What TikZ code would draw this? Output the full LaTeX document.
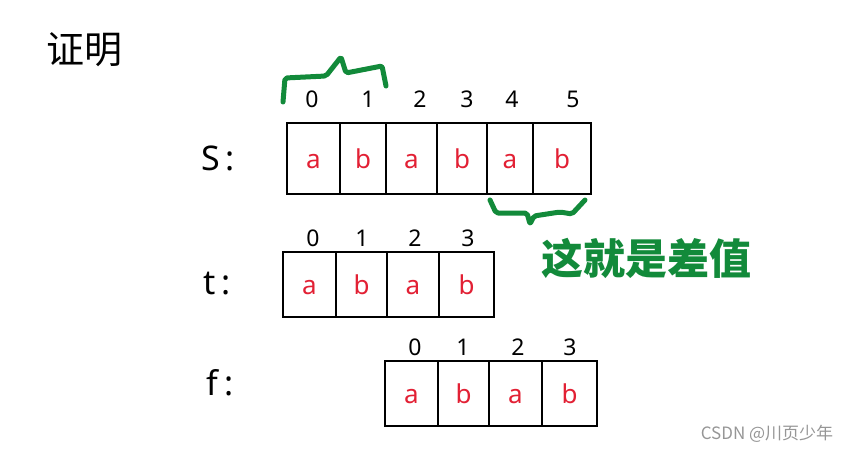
\documentclass[tikz,border=0pt]{standalone}
\usepackage{fontspec}
\setmainfont{Noto Sans}
\newfontfamily\cjk{Noto Sans CJK SC}
\definecolor{hred}{RGB}{226,32,52}
\definecolor{hgreen}{RGB}{18,138,58}
\definecolor{wm}{RGB}{150,150,150}
\begin{document}
\begin{tikzpicture}[x=1pt,y=-1pt,
  cell/.style={draw=black,line width=1.5pt,inner sep=0pt,text=hred,text height=19pt,text depth=0pt,font=\fontsize{26}{26}\selectfont},
  idx/.style={inner sep=0pt,font=\fontsize{23}{23}\selectfont,text=black},
  lab/.style={inner sep=0pt,font=\fontsize{34}{34}\selectfont,text=black},
  brace/.style={draw=hgreen,line width=5pt,line cap=round,line join=round,rounded corners=2pt}]
\useasboundingbox (0,0) rectangle (851,452);
% title
\node[inner sep=0pt,font=\cjk\fontsize{38}{38}\selectfont] (title) at (84,50) {证明};
% S array
\node[lab] (slab) at (218,158) {S\,:};
\foreach \n/\x/\w/\c in {0/313.5/53/a,1/363/46/b,2/411.5/51/a,3/462/50/b,4/510/46/a,5/562/58/b}{
  \node[cell,minimum width=\w pt,minimum height=71pt] (s\n) at (\x,158.5) {\c};
}
\foreach \n/\x in {0/312,1/368,2/420,3/467,4/512,5/573}{
  \node[idx] (si\n) at (\x,99) {\n};
}
% t array
\node[lab] (tlab) at (217,284) {t\,:};
\foreach \n/\x/\w/\c in {0/309.5/53/a,1/361.5/51/b,2/413/52/a,3/466.5/55/b}{
  \node[cell,minimum width=\w pt,minimum height=65pt] (t\n) at (\x,284.5) {\c};
}
\foreach \n/\x in {0/313,1/362,2/415,3/468}{
  \node[idx] (ti\n) at (\x,238) {\n};
}
% f array
\node[lab] (flab) at (220,383) {f\,:};
\foreach \n/\x/\w/\c in {0/411.5/53/a,1/463.5/51/b,2/515.5/53/a,3/569.5/55/b}{
  \node[cell,minimum width=\w pt,minimum height=65pt] (f\n) at (\x,393.5) {\c};
}
\foreach \n/\x in {0/415,1/463,2/518,3/570}{
  \node[idx] (fi\n) at (\x,347) {\n};
}
% green braces
\draw[brace] (283,102) -- (285,78) -- (326,76) -- (341,57) -- (346,73) -- (382,66) -- (386,86);
\draw[brace] (490,200) -- (496,213) -- (527,213) -- (530,224) -- (534,216) -- (560,212) -- (572,214) -- (585,200);
\node[inner sep=0pt,text=hgreen,font=\cjk\bfseries\fontsize{42}{42}\selectfont] (note) at (646,258) {这就是差值};
% watermark
\node[inner sep=0pt,text=wm,font=\cjk\fontsize{17}{17}\selectfont] (wmk) at (767,434) {CSDN @川页少年};
\end{tikzpicture}
\end{document}
